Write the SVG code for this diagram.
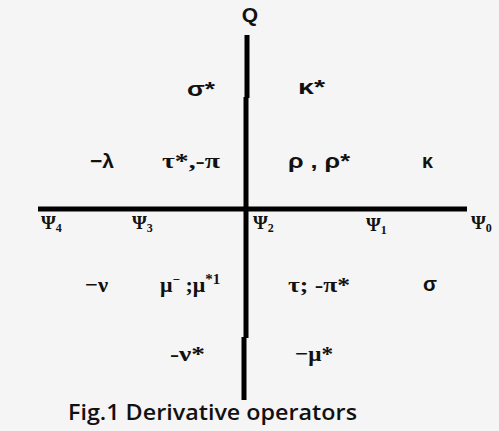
<svg xmlns="http://www.w3.org/2000/svg" width="499" height="431" viewBox="0 0 499 431">
<style>
.s{font-family:"Liberation Sans",Arial,sans-serif;font-weight:bold;font-size:21px;fill:#111}
.r{font-family:"Liberation Serif","Times New Roman",serif;font-weight:bold;font-size:22px;fill:#111}
.p{font-family:"Liberation Serif","Times New Roman",serif;font-weight:bold;font-size:19px;fill:#111}
.c{font-family:"Open Sans","DejaVu Sans",sans-serif;font-weight:600;font-size:21px;fill:#111}
</style>
<rect width="499" height="431" fill="#f5f5f5"/>
<g id="axes" stroke="#000" stroke-linecap="butt">
<line x1="247" y1="35" x2="247" y2="98" stroke-width="5"/>
<line x1="246" y1="97" x2="246" y2="338" stroke-width="5"/>
<line x1="244" y1="337" x2="244" y2="400" stroke-width="5"/>
<line x1="38" y1="209" x2="467" y2="209" stroke-width="5"/>
</g>
<g id="axis-labels">
<text class="s" x="250" y="22" text-anchor="middle" font-size="19">Q</text>
<text class="p" x="41" y="229">Ψ<tspan font-size="12" dy="3">4</tspan></text>
<text class="p" x="132" y="229">Ψ<tspan font-size="12" dy="3">3</tspan></text>
<text class="p" x="253" y="229">Ψ<tspan font-size="12" dy="3">2</tspan></text>
<text class="p" x="366" y="231">Ψ<tspan font-size="12" dy="3">1</tspan></text>
<text class="p" x="471" y="229">Ψ<tspan font-size="12" dy="3">0</tspan></text>
</g>
<g id="row1">
<text class="s" x="187" y="96" textLength="28" lengthAdjust="spacingAndGlyphs">σ*</text>
<text class="s" x="298" y="94" textLength="27" lengthAdjust="spacingAndGlyphs">κ*</text>
</g>
<g id="row2">
<text class="s" x="90" y="168" font-size="19" textLength="24" lengthAdjust="spacingAndGlyphs">−λ</text>
<text class="r" x="162" y="168" font-size="20" textLength="58" lengthAdjust="spacingAndGlyphs">τ*,-π</text>
<text class="s" x="288" y="168" font-size="19" textLength="62" lengthAdjust="spacingAndGlyphs">ρ , ρ*</text>
<text class="s" x="422" y="168" font-size="19" textLength="11" lengthAdjust="spacingAndGlyphs">κ</text>
</g>
<g id="row3">
<text class="r" x="85" y="292" textLength="23" lengthAdjust="spacingAndGlyphs">−ν</text>
<text class="r" x="160" y="292">μ<tspan font-size="13" dy="-8">−</tspan><tspan dy="8"> ;μ</tspan><tspan font-size="15" dy="-8">*1</tspan></text>
<text class="r" x="288" y="292" textLength="62" lengthAdjust="spacingAndGlyphs">τ; -π*</text>
<text class="s" x="423" y="291" textLength="14" lengthAdjust="spacingAndGlyphs">σ</text>
</g>
<g id="row4">
<text class="r" x="170" y="361" textLength="35" lengthAdjust="spacingAndGlyphs">-ν*</text>
<text class="r" x="295" y="361" textLength="38" lengthAdjust="spacingAndGlyphs">−μ*</text>
</g>
<text class="c" x="68" y="420" textLength="289" lengthAdjust="spacingAndGlyphs">Fig.1 Derivative operators</text>
</svg>
